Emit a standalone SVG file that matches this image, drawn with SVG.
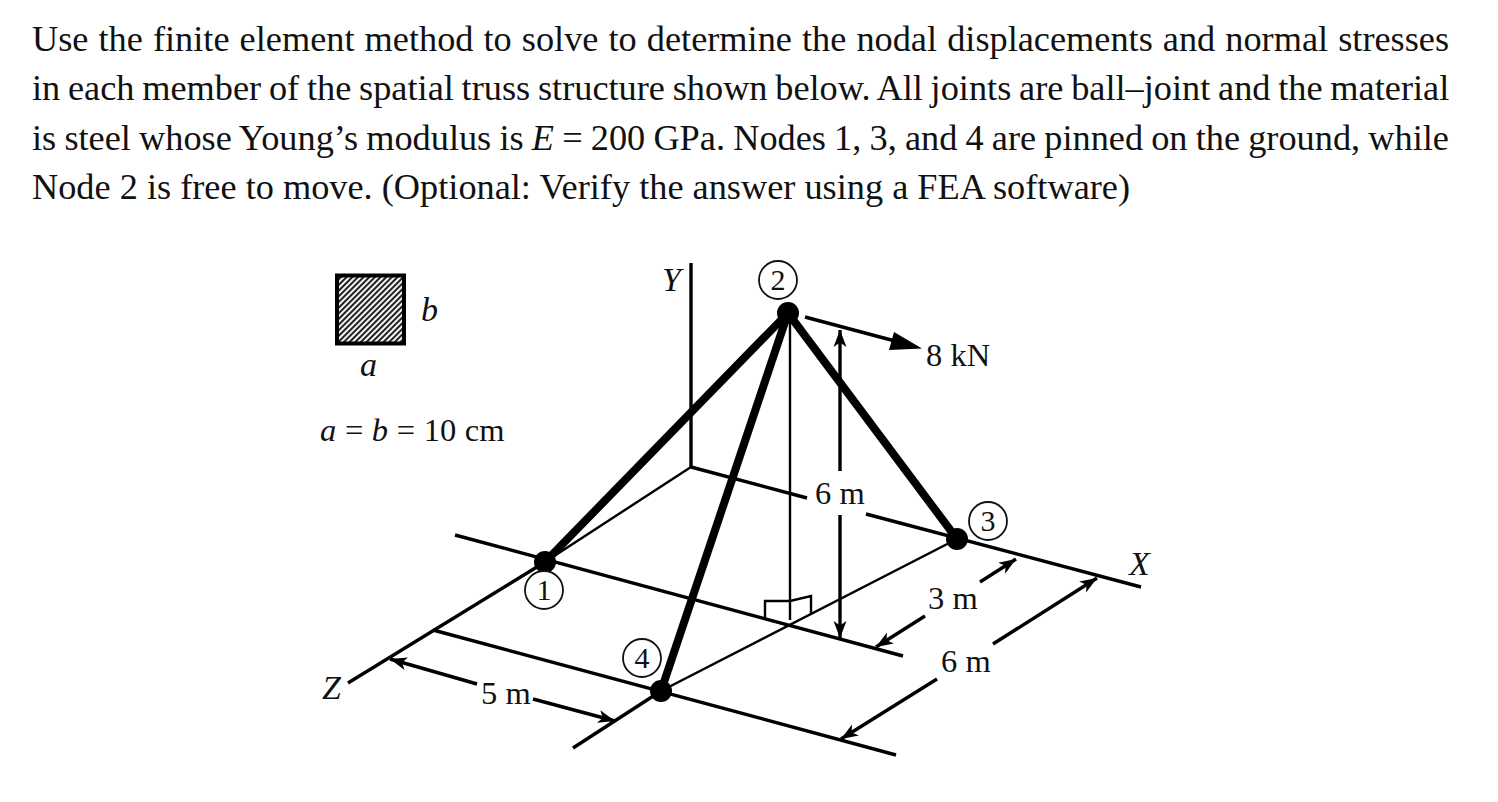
<svg xmlns="http://www.w3.org/2000/svg" width="1498" height="802" viewBox="0 0 1498 802">
<style>
text{font-family:"Liberation Serif","Times New Roman",serif;fill:#111}
.p{font-size:36.3px}
.l{font-size:32.5px}
.i{font-size:34px;font-style:italic}
.n{font-size:30px;text-anchor:middle}
.ax{stroke:#000;stroke-width:3.4;fill:none;stroke-linecap:butt}
.th{stroke:#000;stroke-width:2.4;fill:none}
.m{stroke:#000;stroke-width:8;fill:none}
.d{stroke:#000;stroke-width:3.4;fill:none;marker-end:url(#ah)}
.c{fill:#fff;stroke:#111;stroke-width:1.8}
</style>
<defs>
<marker id="ah" markerUnits="userSpaceOnUse" markerWidth="18" markerHeight="16" refX="17" refY="8" orient="auto">
<path d="M0,1.5 L17,8 L0,14.5 L4.5,8 Z" fill="#000"/>
</marker>
<pattern id="hatch" patternUnits="userSpaceOnUse" width="4" height="4" patternTransform="rotate(-45)">
<rect width="4" height="4" fill="#fff"/>
<rect width="4" height="2.1" fill="#222"/>
</pattern>
</defs>
<rect width="1498" height="802" fill="#fff"/>
<g id="problem-text">
<text class="p" x="32" y="51" word-spacing="1">Use the finite element method to solve to determine the nodal displacements and normal stresses</text>
<text class="p" x="32" y="100" word-spacing="-1.3">in each member of the spatial truss structure shown below. All joints are ball–joint and the material</text>
<text class="p" x="32" y="150" word-spacing="-0.9">is steel whose Young’s modulus is <tspan font-style="italic">E</tspan> = 200 GPa. Nodes 1, 3, and 4 are pinned on the ground, while</text>
<text class="p" x="32" y="199">Node 2 is free to move. (Optional: Verify the answer using a FEA software)</text>
</g>
<g id="section">
<rect x="337" y="275.500" width="67" height="68" fill="url(#hatch)" stroke="#000" stroke-width="4"/>
<text class="i" x="421" y="321">b</text>
<text class="i" x="360" y="376">a</text>
<text class="l" x="320" y="441" word-spacing="0.5"><tspan font-style="italic">a</tspan> = <tspan font-style="italic">b</tspan> = 10 cm</text>
</g>
<g id="connectors">
<path id="y-axis" class="ax" d="M691,263 V467"/>
<path id="base-back" class="ax" d="M691,467 L807,498 M866,514 L1141,587"/>
<path id="base-left" class="th" d="M691,467 L545,562"/>
<path id="x-front" class="ax" d="M455,535 L903,656"/>
<path id="z-axis" class="ax" d="M545,562 L348,683"/>
<path id="z-short" class="ax" d="M661,691 L573,748"/>
<path id="line-front" class="ax" d="M433,630 L896,755"/>
<path id="diag" class="th" d="M661,691 L957,539"/>
<path id="plumb" class="th" d="M790,313 V620"/>
<path id="right-angle" class="th" d="M765,618 V601 H790 L811,596 V614"/>
<path id="member-1-2" class="m" d="M545,562 L788,313"/>
<path id="member-4-2" class="m" d="M661,691 L788,313"/>
<path id="member-3-2" class="m" d="M957,539 L788,313"/>
<path id="load" stroke="#000" stroke-width="3.400" fill="none" d="M805,317 L895,341"/>
<polygon id="load-head" points="922,348.500 894,332 889,350"/>
<path id="dim-6v-up" class="d" d="M840,471 V330"/>
<path id="dim-6v-down" class="d" d="M840,515 V638"/>
<path id="dim-3-up" class="d" d="M980,582 L1016,559"/>
<path id="dim-3-down" class="d" d="M925,616 L876,647"/>
<path id="dim-6-up" class="d" d="M993,644 L1097,578"/>
<path id="dim-6-down" class="d" d="M937,679 L841,739"/>
<path id="dim-5-left" class="d" d="M477,684 L390,659"/>
<path id="dim-5-right" class="d" d="M533,699 L615,721"/>
</g>
<g id="node-1"><circle cx="545" cy="562" r="11"/><circle class="c" cx="544" cy="590" r="19"/><text class="n" x="544" y="600">1</text></g>
<g id="node-2"><circle cx="788" cy="313" r="11"/><circle class="c" cx="778" cy="280" r="19"/><text class="n" x="778" y="290">2</text></g>
<g id="node-3"><circle cx="957" cy="539" r="11"/><circle class="c" cx="988" cy="521" r="19"/><text class="n" x="988" y="531">3</text></g>
<g id="node-4"><circle cx="661" cy="691" r="11"/><circle class="c" cx="642" cy="658" r="19"/><text class="n" x="642" y="668">4</text></g>
<g id="labels">
<text class="i" x="662" y="291">Y</text>
<text class="i" x="322" y="699">Z</text>
<text class="i" x="1129" y="575">X</text>
<text class="l" x="926" y="366">8 kN</text>
<text class="l" x="815" y="504">6 m</text>
<text class="l" x="928" y="609">3 m</text>
<text class="l" x="941" y="672">6 m</text>
<text class="l" x="481" y="704">5 m</text>
</g>
</svg>
